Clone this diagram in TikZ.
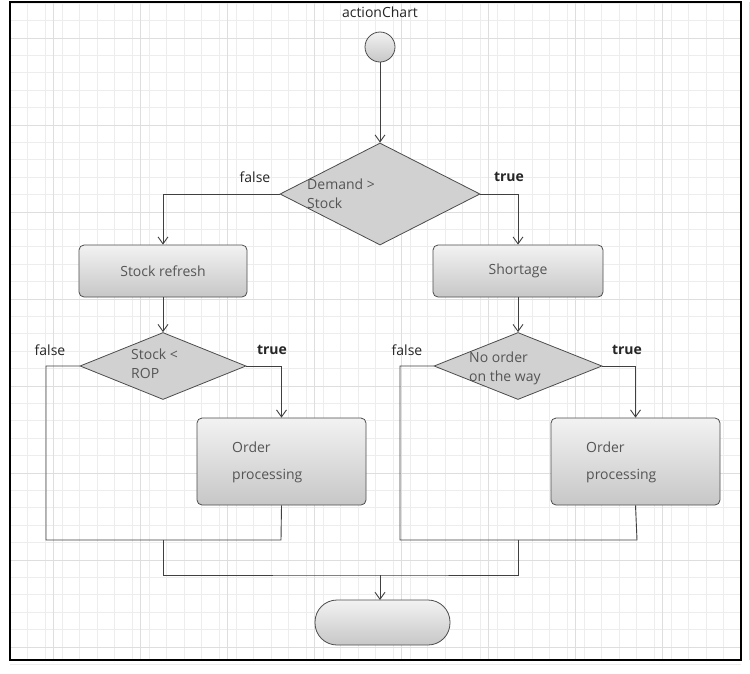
\documentclass[tikz,border=0pt]{standalone}
\usepackage{fontspec}
\setmainfont{Open Sans}
\usetikzlibrary{arrows.meta,shapes.geometric}
\definecolor{txt}{HTML}{555555}
\tikzset{
  x=1pt,y=-1pt,
  fl/.style={draw=black!75,line width=0.9pt},
  arr/.style={fl,-{Straight Barb[length=7pt,width=10pt]}},
  shade1/.style={top color=black!5,bottom color=black!22},
  tf/.style={font=\fontsize{14}{19}\selectfont},
  boxA/.style={draw=black!70,line width=0.8pt,rounded corners=5pt,shade1,text=txt,tf,align=left,inner sep=0pt},
  dia/.style={diamond,draw=black!70,line width=0.8pt,fill=black!18,inner sep=0pt},
  dtxt/.style={text=txt,tf,align=left,anchor=west,inner sep=0pt},
  lbl/.style={font=\fontsize{14}{17}\selectfont,text=black!85},
  lblb/.style={font=\bfseries\fontsize{14}{17}\selectfont,text=black!85},
}
\begin{document}
\begin{tikzpicture}
\useasboundingbox (0,0) rectangle (750,673);
\fill[white] (0,0) rectangle (750,673);
\foreach \i in {0,...,42} \draw[black!7,line width=0.5pt] ({10+\i*17.4},2) -- ({10+\i*17.4},660);
\foreach \i in {0,...,38} \draw[black!7,line width=0.5pt] (10,{3+\i*17.4}) -- (741,{3+\i*17.4});
\foreach \i in {0,...,8} \draw[black!13,line width=0.6pt] ({53+\i*87},2) -- ({53+\i*87},660);
\foreach \i in {0,...,7} \draw[black!13,line width=0.6pt] (10,{38+\i*87}) -- (741,{38+\i*87});
\draw[black,line width=1.6pt] (10,2) rectangle (741,660);

\node[lbl] (title) at (380,12) {actionChart};
\node[circle,draw=black!70,line width=0.8pt,shade1,minimum size=30pt,inner sep=0pt] (start) at (380,47) {};

\node[dia,minimum width=200pt,minimum height=102pt] (d1) at (380,194) {};
\node[dtxt] (d1t) at (307,194) {Demand >\\Stock};
\node[lbl] (f1) at (255,177) {false};
\node[lblb] (t1) at (509,177) {true};

\node[boxA,minimum width=168pt,minimum height=52pt] (sr) at (163,271) {Stock refresh};
\node[boxA,minimum width=170pt,minimum height=52pt] (sh) at (518,271) {Shortage};

\node[dia,minimum width=166pt,minimum height=67pt] (d2) at (163,366) {};
\node[dtxt] (d2t) at (131,364) {Stock <\\ROP};
\node[lbl] (f2) at (50,350) {false};
\node[lblb] (t2) at (272,350) {true};

\node[dia,minimum width=168pt,minimum height=67pt] (d3) at (518,366) {};
\node[dtxt] (d3t) at (469,368) {No order\\on the way};
\node[lbl] (f3) at (407,350) {false};
\node[lblb] (t3) at (627,350) {true};

\node[boxA,minimum width=169pt,minimum height=87pt] (o1) at (281.5,461.5) {};
\node[dtxt,font=\fontsize{14}{27}\selectfont] (o1t) at (232,462) {Order\\processing};
\node[boxA,minimum width=169pt,minimum height=87pt] (o2) at (635.5,461.5) {};
\node[dtxt,font=\fontsize{14}{27}\selectfont] (o2t) at (586,462) {Order\\processing};

\node[boxA,rounded corners=22pt,minimum width=135pt,minimum height=45pt] (end) at (382.5,622.5) {};

\draw[arr] (start) -- (d1);
\draw[arr] (d1.west) -| (sr.north);
\draw[arr] (d1.east) -| (sh.north);
\draw[arr] (sr) -- (d2);
\draw[arr] (sh) -- (d3);
\draw[arr] (d2.east) -| (o1.north);
\draw[arr] (d3.east) -| (o2.north);
\coordinate (m1) at (163,540);
\coordinate (m2) at (518,540);
\coordinate (m3) at (380,575);
\draw[fl] (d2.west) -- (46,366) |- (m1) -- (281,540) -- (o1.south);
\draw[fl] (d3.west) -- (400,366) |- (m2) -- (637,540) -- (o2.south);
\draw[fl] (m1) |- (m3) -| (m2);
\draw[arr] (m3) -- (380,600);
\end{tikzpicture}
\end{document}
